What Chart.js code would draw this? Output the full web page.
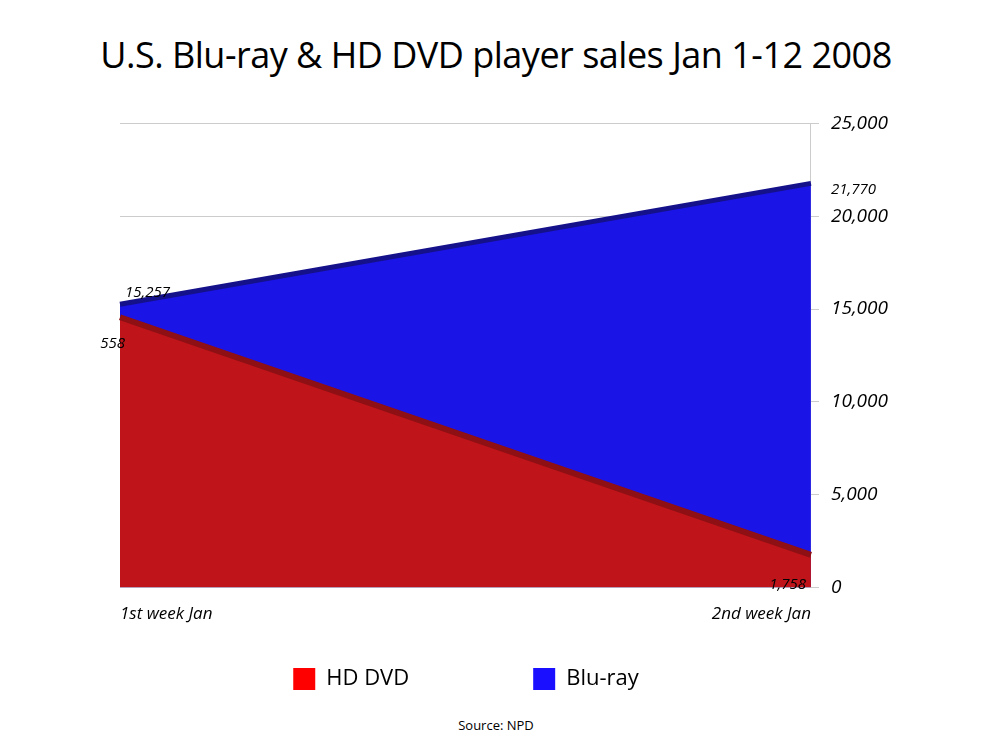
<!DOCTYPE html>
<html>
<head>
<style>
  body { margin: 0; background: #fff; }
  #wrap { position: relative; width: 992px; height: 744px; }
  #title { position: absolute; top: 30px; left: 0; width: 992px; text-align: center;
    font-family: "Open Sans", sans-serif; font-size: 36px; color: #000; letter-spacing: -0.5px; }
  #src { position: absolute; top: 716px; left: 0; width: 992px; text-align: center;
    font-family: "Open Sans", sans-serif; font-size: 13px; }
  #chartBox { position: absolute; left: 100px; top: 100px; width: 800px; height: 600px; }
</style>
</head>
<body>
<div id="wrap">
  <div id="title">U.S. Blu-ray &amp; HD DVD player sales Jan 1-12 2008</div>
  <div id="chartBox"><canvas id="chart"></canvas></div>
  <div id="src">Source: NPD</div>
</div>
<script src="https://cdn.jsdelivr.net/npm/chart.js@4"></script>
<script>
const weeks = ['1st week Jan', '2nd week Jan']
const hdDvd = [14558, 1758]
const bluRay = [15257, 21770]
const yTicks = [0, 5000, 10000, 15000, 20000, 25000]

const fmt = v => v.toLocaleString('en-US')

// value labels next to the points
const valueLabels = {
  id: 'valueLabels',
  afterDatasetsDraw(chart) {
    const ctx = chart.ctx
    ctx.save()
    ctx.font = 'italic 15px "Open Sans", sans-serif'
    ctx.fillStyle = '#000'
    chart.data.datasets.forEach((ds, i) => {
      chart.getDatasetMeta(i).data.forEach((pt, j) => {
        const left = j === 0
        const above = ds.label === 'Blu-ray'
        ctx.textAlign = left ? 'left' : 'right'
        const dx = left ? (above ? 5 : -40) : (above ? 65 : -5)
        const dy = left ? (above ? -12 : 26) : (above ? 6 : 30)
        ctx.fillText(fmt(ds.data[j]), pt.x + dx, pt.y + dy)
      })
    })
    ctx.restore()
  }
}

new Chart('chart', {
  type: 'line',
  data: {
    labels: weeks,
    datasets: [
      { label: 'HD DVD', data: hdDvd, fill: 'origin', backgroundColor: '#c0141b',
        borderColor: '#8e1014', borderWidth: 6, pointRadius: 0, order: 0, tension: 0 },
      { label: 'Blu-ray', data: bluRay, fill: 'origin', backgroundColor: '#1a14e6',
        borderColor: '#15118a', borderWidth: 5, pointRadius: 0, order: 1, tension: 0 },
    ],
  },
  options: {
    responsive: true,
    maintainAspectRatio: false,
    animation: false,
    layout: { padding: { left: 20, top: 20 } },
    scales: {
      x: {
        offset: false,
        grid: { display: false },
        border: { color: '#ccc' },
        ticks: { font: { family: 'Open Sans', size: 17, style: 'italic' }, color: '#000',
          align: 'inner', padding: 8 },
      },
      y: {
        position: 'right',
        min: 0, max: 25000,
        afterBuildTicks: ax => { ax.ticks = yTicks.map(v => ({ value: v })) },
        grid: { color: '#ccc' },
        border: { color: '#ccc' },
        ticks: { callback: v => fmt(v), font: { family: 'Open Sans', size: 19, style: 'italic' },
          color: '#000', padding: 12 },
      },
    },
    plugins: {
      legend: {
        position: 'bottom',
        labels: { boxWidth: 22, boxHeight: 22, padding: 36,
          font: { family: 'Open Sans', size: 22 }, color: '#000',
          generateLabels: ch => ch.data.datasets.map((d, i) => ({
            text: d.label + '\u2003\u2003\u2003\u2003', fillStyle: i === 0 ? '#f00' : '#1a10ff',
            strokeStyle: 'transparent', lineWidth: 0, datasetIndex: i })) },
      },
      tooltip: { enabled: false },
    },
  },
  plugins: [valueLabels],
})
</script>
</body>
</html>
